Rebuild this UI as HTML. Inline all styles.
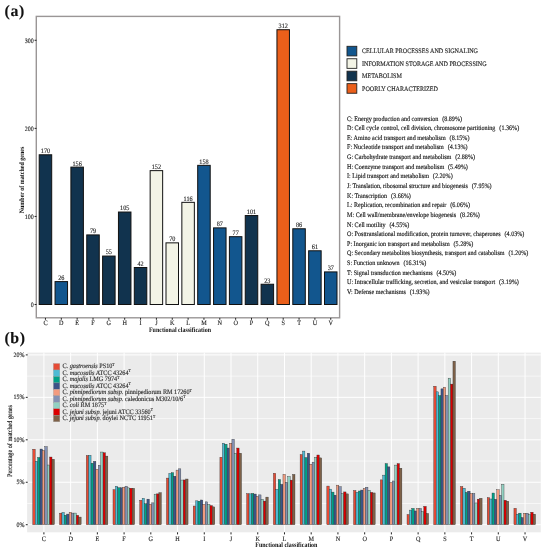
<!DOCTYPE html>
<html><head><meta charset="utf-8"><style>
html,body{margin:0;padding:0;background:#fff;}
svg{display:block;font-family:"Liberation Serif", serif;will-change:transform;}
text{stroke-width:0.12px;text-rendering:geometricPrecision;}
</style></head><body>
<svg width="546" height="550" viewBox="0 0 546 550">
<rect width="546" height="550" fill="#fff"/>
<text x="4.5" y="16.35" font-size="15.85" font-weight="bold" fill="#111" stroke="#111" stroke-width="0.3" letter-spacing="0.6">(a)</text>
<rect x="36.3" y="16.4" width="303.3" height="301.4" fill="none" stroke="#9a9696" stroke-width="1.4"/>
<line x1="34.6" y1="304.50" x2="36.5" y2="304.50" stroke="#222" stroke-width="1"/>
<text transform="translate(33.70,307.10) scale(1,1.1)" font-size="6.0" text-anchor="end" font-weight="normal" font-style="normal" fill="#1a1a1a" stroke="#1a1a1a" >0</text>
<line x1="34.6" y1="216.43" x2="36.5" y2="216.43" stroke="#222" stroke-width="1"/>
<text transform="translate(33.70,219.03) scale(1,1.1)" font-size="6.0" text-anchor="end" font-weight="normal" font-style="normal" fill="#1a1a1a" stroke="#1a1a1a" >100</text>
<line x1="34.6" y1="128.36" x2="36.5" y2="128.36" stroke="#222" stroke-width="1"/>
<text transform="translate(33.70,130.96) scale(1,1.1)" font-size="6.0" text-anchor="end" font-weight="normal" font-style="normal" fill="#1a1a1a" stroke="#1a1a1a" >200</text>
<line x1="34.6" y1="40.29" x2="36.5" y2="40.29" stroke="#222" stroke-width="1"/>
<text transform="translate(33.70,42.89) scale(1,1.1)" font-size="6.0" text-anchor="end" font-weight="normal" font-style="normal" fill="#1a1a1a" stroke="#1a1a1a" >300</text>
<rect x="39.20" y="154.78" width="12.5" height="149.72" fill="#11334e" stroke="#111" stroke-width="1"/>
<text transform="translate(45.45,153.18) scale(1,1.1)" font-size="6.2" text-anchor="middle" font-weight="normal" font-style="normal" fill="#222" stroke="#222" >170</text>
<line x1="45.45" y1="317.9" x2="45.45" y2="319.8" stroke="#222" stroke-width="1"/>
<text transform="translate(45.45,324.60) scale(1,1.1)" font-size="6.2" text-anchor="middle" font-weight="normal" font-style="normal" fill="#1a1a1a" stroke="#1a1a1a" >C</text>
<rect x="55.05" y="281.60" width="12.5" height="22.90" fill="#12568e" stroke="#111" stroke-width="1"/>
<text transform="translate(61.30,280.00) scale(1,1.1)" font-size="6.2" text-anchor="middle" font-weight="normal" font-style="normal" fill="#222" stroke="#222" >26</text>
<line x1="61.30" y1="317.9" x2="61.30" y2="319.8" stroke="#222" stroke-width="1"/>
<text transform="translate(61.30,324.60) scale(1,1.1)" font-size="6.2" text-anchor="middle" font-weight="normal" font-style="normal" fill="#1a1a1a" stroke="#1a1a1a" >D</text>
<rect x="70.90" y="167.11" width="12.5" height="137.39" fill="#11334e" stroke="#111" stroke-width="1"/>
<text transform="translate(77.15,165.51) scale(1,1.1)" font-size="6.2" text-anchor="middle" font-weight="normal" font-style="normal" fill="#222" stroke="#222" >156</text>
<line x1="77.15" y1="317.9" x2="77.15" y2="319.8" stroke="#222" stroke-width="1"/>
<text transform="translate(77.15,324.60) scale(1,1.1)" font-size="6.2" text-anchor="middle" font-weight="normal" font-style="normal" fill="#1a1a1a" stroke="#1a1a1a" >E</text>
<rect x="86.75" y="234.92" width="12.5" height="69.58" fill="#11334e" stroke="#111" stroke-width="1"/>
<text transform="translate(93.00,233.32) scale(1,1.1)" font-size="6.2" text-anchor="middle" font-weight="normal" font-style="normal" fill="#222" stroke="#222" >79</text>
<line x1="93.00" y1="317.9" x2="93.00" y2="319.8" stroke="#222" stroke-width="1"/>
<text transform="translate(93.00,324.60) scale(1,1.1)" font-size="6.2" text-anchor="middle" font-weight="normal" font-style="normal" fill="#1a1a1a" stroke="#1a1a1a" >F</text>
<rect x="102.60" y="256.06" width="12.5" height="48.44" fill="#11334e" stroke="#111" stroke-width="1"/>
<text transform="translate(108.85,254.46) scale(1,1.1)" font-size="6.2" text-anchor="middle" font-weight="normal" font-style="normal" fill="#222" stroke="#222" >55</text>
<line x1="108.85" y1="317.9" x2="108.85" y2="319.8" stroke="#222" stroke-width="1"/>
<text transform="translate(108.85,324.60) scale(1,1.1)" font-size="6.2" text-anchor="middle" font-weight="normal" font-style="normal" fill="#1a1a1a" stroke="#1a1a1a" >G</text>
<rect x="118.45" y="212.03" width="12.5" height="92.47" fill="#11334e" stroke="#111" stroke-width="1"/>
<text transform="translate(124.70,210.43) scale(1,1.1)" font-size="6.2" text-anchor="middle" font-weight="normal" font-style="normal" fill="#222" stroke="#222" >105</text>
<line x1="124.70" y1="317.9" x2="124.70" y2="319.8" stroke="#222" stroke-width="1"/>
<text transform="translate(124.70,324.60) scale(1,1.1)" font-size="6.2" text-anchor="middle" font-weight="normal" font-style="normal" fill="#1a1a1a" stroke="#1a1a1a" >H</text>
<rect x="134.30" y="267.51" width="12.5" height="36.99" fill="#11334e" stroke="#111" stroke-width="1"/>
<text transform="translate(140.55,265.91) scale(1,1.1)" font-size="6.2" text-anchor="middle" font-weight="normal" font-style="normal" fill="#222" stroke="#222" >42</text>
<line x1="140.55" y1="317.9" x2="140.55" y2="319.8" stroke="#222" stroke-width="1"/>
<text transform="translate(140.55,324.60) scale(1,1.1)" font-size="6.2" text-anchor="middle" font-weight="normal" font-style="normal" fill="#1a1a1a" stroke="#1a1a1a" >I</text>
<rect x="150.15" y="170.63" width="12.5" height="133.87" fill="#f3f4e6" stroke="#111" stroke-width="1"/>
<text transform="translate(156.40,169.03) scale(1,1.1)" font-size="6.2" text-anchor="middle" font-weight="normal" font-style="normal" fill="#222" stroke="#222" >152</text>
<line x1="156.40" y1="317.9" x2="156.40" y2="319.8" stroke="#222" stroke-width="1"/>
<text transform="translate(156.40,324.60) scale(1,1.1)" font-size="6.2" text-anchor="middle" font-weight="normal" font-style="normal" fill="#1a1a1a" stroke="#1a1a1a" >J</text>
<rect x="166.00" y="242.85" width="12.5" height="61.65" fill="#f3f4e6" stroke="#111" stroke-width="1"/>
<text transform="translate(172.25,241.25) scale(1,1.1)" font-size="6.2" text-anchor="middle" font-weight="normal" font-style="normal" fill="#222" stroke="#222" >70</text>
<line x1="172.25" y1="317.9" x2="172.25" y2="319.8" stroke="#222" stroke-width="1"/>
<text transform="translate(172.25,324.60) scale(1,1.1)" font-size="6.2" text-anchor="middle" font-weight="normal" font-style="normal" fill="#1a1a1a" stroke="#1a1a1a" >K</text>
<rect x="181.85" y="202.34" width="12.5" height="102.16" fill="#f3f4e6" stroke="#111" stroke-width="1"/>
<text transform="translate(188.10,200.74) scale(1,1.1)" font-size="6.2" text-anchor="middle" font-weight="normal" font-style="normal" fill="#222" stroke="#222" >116</text>
<line x1="188.10" y1="317.9" x2="188.10" y2="319.8" stroke="#222" stroke-width="1"/>
<text transform="translate(188.10,324.60) scale(1,1.1)" font-size="6.2" text-anchor="middle" font-weight="normal" font-style="normal" fill="#1a1a1a" stroke="#1a1a1a" >L</text>
<rect x="197.70" y="165.35" width="12.5" height="139.15" fill="#12568e" stroke="#111" stroke-width="1"/>
<text transform="translate(203.95,163.75) scale(1,1.1)" font-size="6.2" text-anchor="middle" font-weight="normal" font-style="normal" fill="#222" stroke="#222" >158</text>
<line x1="203.95" y1="317.9" x2="203.95" y2="319.8" stroke="#222" stroke-width="1"/>
<text transform="translate(203.95,324.60) scale(1,1.1)" font-size="6.2" text-anchor="middle" font-weight="normal" font-style="normal" fill="#1a1a1a" stroke="#1a1a1a" >M</text>
<rect x="213.55" y="227.88" width="12.5" height="76.62" fill="#12568e" stroke="#111" stroke-width="1"/>
<text transform="translate(219.80,226.28) scale(1,1.1)" font-size="6.2" text-anchor="middle" font-weight="normal" font-style="normal" fill="#222" stroke="#222" >87</text>
<line x1="219.80" y1="317.9" x2="219.80" y2="319.8" stroke="#222" stroke-width="1"/>
<text transform="translate(219.80,324.60) scale(1,1.1)" font-size="6.2" text-anchor="middle" font-weight="normal" font-style="normal" fill="#1a1a1a" stroke="#1a1a1a" >N</text>
<rect x="229.40" y="236.69" width="12.5" height="67.81" fill="#12568e" stroke="#111" stroke-width="1"/>
<text transform="translate(235.65,235.09) scale(1,1.1)" font-size="6.2" text-anchor="middle" font-weight="normal" font-style="normal" fill="#222" stroke="#222" >77</text>
<line x1="235.65" y1="317.9" x2="235.65" y2="319.8" stroke="#222" stroke-width="1"/>
<text transform="translate(235.65,324.60) scale(1,1.1)" font-size="6.2" text-anchor="middle" font-weight="normal" font-style="normal" fill="#1a1a1a" stroke="#1a1a1a" >O</text>
<rect x="245.25" y="215.55" width="12.5" height="88.95" fill="#11334e" stroke="#111" stroke-width="1"/>
<text transform="translate(251.50,213.95) scale(1,1.1)" font-size="6.2" text-anchor="middle" font-weight="normal" font-style="normal" fill="#222" stroke="#222" >101</text>
<line x1="251.50" y1="317.9" x2="251.50" y2="319.8" stroke="#222" stroke-width="1"/>
<text transform="translate(251.50,324.60) scale(1,1.1)" font-size="6.2" text-anchor="middle" font-weight="normal" font-style="normal" fill="#1a1a1a" stroke="#1a1a1a" >P</text>
<rect x="261.10" y="284.24" width="12.5" height="20.26" fill="#11334e" stroke="#111" stroke-width="1"/>
<text transform="translate(267.35,282.64) scale(1,1.1)" font-size="6.2" text-anchor="middle" font-weight="normal" font-style="normal" fill="#222" stroke="#222" >23</text>
<line x1="267.35" y1="317.9" x2="267.35" y2="319.8" stroke="#222" stroke-width="1"/>
<text transform="translate(267.35,324.60) scale(1,1.1)" font-size="6.2" text-anchor="middle" font-weight="normal" font-style="normal" fill="#1a1a1a" stroke="#1a1a1a" >Q</text>
<rect x="276.95" y="29.72" width="12.5" height="274.78" fill="#eb5f1a" stroke="#111" stroke-width="1"/>
<text transform="translate(283.20,28.12) scale(1,1.1)" font-size="6.2" text-anchor="middle" font-weight="normal" font-style="normal" fill="#222" stroke="#222" >312</text>
<line x1="283.20" y1="317.9" x2="283.20" y2="319.8" stroke="#222" stroke-width="1"/>
<text transform="translate(283.20,324.60) scale(1,1.1)" font-size="6.2" text-anchor="middle" font-weight="normal" font-style="normal" fill="#1a1a1a" stroke="#1a1a1a" >S</text>
<rect x="292.80" y="228.76" width="12.5" height="75.74" fill="#12568e" stroke="#111" stroke-width="1"/>
<text transform="translate(299.05,227.16) scale(1,1.1)" font-size="6.2" text-anchor="middle" font-weight="normal" font-style="normal" fill="#222" stroke="#222" >86</text>
<line x1="299.05" y1="317.9" x2="299.05" y2="319.8" stroke="#222" stroke-width="1"/>
<text transform="translate(299.05,324.60) scale(1,1.1)" font-size="6.2" text-anchor="middle" font-weight="normal" font-style="normal" fill="#1a1a1a" stroke="#1a1a1a" >T</text>
<rect x="308.65" y="250.78" width="12.5" height="53.72" fill="#12568e" stroke="#111" stroke-width="1"/>
<text transform="translate(314.90,249.18) scale(1,1.1)" font-size="6.2" text-anchor="middle" font-weight="normal" font-style="normal" fill="#222" stroke="#222" >61</text>
<line x1="314.90" y1="317.9" x2="314.90" y2="319.8" stroke="#222" stroke-width="1"/>
<text transform="translate(314.90,324.60) scale(1,1.1)" font-size="6.2" text-anchor="middle" font-weight="normal" font-style="normal" fill="#1a1a1a" stroke="#1a1a1a" >U</text>
<rect x="324.50" y="271.91" width="12.5" height="32.59" fill="#12568e" stroke="#111" stroke-width="1"/>
<text transform="translate(330.75,270.31) scale(1,1.1)" font-size="6.2" text-anchor="middle" font-weight="normal" font-style="normal" fill="#222" stroke="#222" >37</text>
<line x1="330.75" y1="317.9" x2="330.75" y2="319.8" stroke="#222" stroke-width="1"/>
<text transform="translate(330.75,324.60) scale(1,1.1)" font-size="6.2" text-anchor="middle" font-weight="normal" font-style="normal" fill="#1a1a1a" stroke="#1a1a1a" >V</text>
<text transform="translate(180,332.0) scale(1,1.15)" font-size="6.0" text-anchor="middle" font-weight="bold" fill="#111">Functional classification</text>
<text transform="translate(23.7,180) rotate(-90) scale(1,1.15)" font-size="6.0" text-anchor="middle" font-weight="bold" fill="#111">Number of matched genes</text>
<rect x="347" y="46.30" width="9.8" height="9.6" fill="#12568e" stroke="#222" stroke-width="0.9"/>
<text transform="translate(362.00,53.30) scale(1,1.1)" font-size="6.1" text-anchor="start" font-weight="normal" font-style="normal" fill="#222" stroke="#222" >CELLULAR PROCESSES AND SIGNALING</text>
<rect x="347" y="58.75" width="9.8" height="9.6" fill="#f3f4e6" stroke="#222" stroke-width="0.9"/>
<text transform="translate(362.00,65.75) scale(1,1.1)" font-size="6.1" text-anchor="start" font-weight="normal" font-style="normal" fill="#222" stroke="#222" >INFORMATION STORAGE AND PROCESSING</text>
<rect x="347" y="71.20" width="9.8" height="9.6" fill="#11334e" stroke="#222" stroke-width="0.9"/>
<text transform="translate(362.00,78.20) scale(1,1.1)" font-size="6.1" text-anchor="start" font-weight="normal" font-style="normal" fill="#222" stroke="#222" >METABOLISM</text>
<rect x="347" y="83.65" width="9.8" height="9.6" fill="#eb5f1a" stroke="#222" stroke-width="0.9"/>
<text transform="translate(362.00,90.65) scale(1,1.1)" font-size="6.1" text-anchor="start" font-weight="normal" font-style="normal" fill="#222" stroke="#222" >POORLY CHARACTERIZED</text>
<text transform="translate(347,120.60) scale(1,1.1)" font-size="6.1" fill="#111" stroke="#111" xml:space="preserve">C: Energy production and conversion  <tspan dx="0.9">(8.89%)</tspan></text>
<text transform="translate(347,130.23) scale(1,1.1)" font-size="6.1" fill="#111" stroke="#111" xml:space="preserve">D: Cell cycle control, cell division, chromosome partitioning  <tspan dx="0.9">(1.36%)</tspan></text>
<text transform="translate(347,139.86) scale(1,1.1)" font-size="6.1" fill="#111" stroke="#111" xml:space="preserve">E: Amino acid transport and metabolism  <tspan dx="0.9">(8.15%)</tspan></text>
<text transform="translate(347,149.49) scale(1,1.1)" font-size="6.1" fill="#111" stroke="#111" xml:space="preserve">F: Nucleotide transport and metabolism  <tspan dx="0.9">(4.13%)</tspan></text>
<text transform="translate(347,159.12) scale(1,1.1)" font-size="6.1" fill="#111" stroke="#111" xml:space="preserve">G: Carbohydrate transport and metabolism  <tspan dx="0.9">(2.88%)</tspan></text>
<text transform="translate(347,168.75) scale(1,1.1)" font-size="6.1" fill="#111" stroke="#111" xml:space="preserve">H: Coenzyme transport and metabolism  <tspan dx="0.9">(5.49%)</tspan></text>
<text transform="translate(347,178.38) scale(1,1.1)" font-size="6.1" fill="#111" stroke="#111" xml:space="preserve">I: Lipid transport and metabolism  <tspan dx="0.9">(2.20%)</tspan></text>
<text transform="translate(347,188.01) scale(1,1.1)" font-size="6.1" fill="#111" stroke="#111" xml:space="preserve">J: Translation, ribosomal structure and biogenesis  <tspan dx="0.9">(7.95%)</tspan></text>
<text transform="translate(347,197.64) scale(1,1.1)" font-size="6.1" fill="#111" stroke="#111" xml:space="preserve">K: Transcription  <tspan dx="0.9">(3.66%)</tspan></text>
<text transform="translate(347,207.27) scale(1,1.1)" font-size="6.1" fill="#111" stroke="#111" xml:space="preserve">L: Replication, recombination and repair  <tspan dx="0.9">(6.06%)</tspan></text>
<text transform="translate(347,216.90) scale(1,1.1)" font-size="6.1" fill="#111" stroke="#111" xml:space="preserve">M: Cell wall/membrane/envelope biogenesis  <tspan dx="0.9">(8.26%)</tspan></text>
<text transform="translate(347,226.53) scale(1,1.1)" font-size="6.1" fill="#111" stroke="#111" xml:space="preserve">N: Cell motility  <tspan dx="0.9">(4.55%)</tspan></text>
<text transform="translate(347,236.16) scale(1,1.1)" font-size="6.1" fill="#111" stroke="#111" xml:space="preserve">O: Posttranslational modification, protein turnover, chaperones  <tspan dx="0.9">(4.03%)</tspan></text>
<text transform="translate(347,245.79) scale(1,1.1)" font-size="6.1" fill="#111" stroke="#111" xml:space="preserve">P: Inorganic ion transport and metabolism  <tspan dx="0.9">(5.28%)</tspan></text>
<text transform="translate(347,255.42) scale(1,1.1)" font-size="6.1" fill="#111" stroke="#111" xml:space="preserve">Q: Secondary metabolites biosynthesis, transport and catabolism  <tspan dx="0.9">(1.20%)</tspan></text>
<text transform="translate(347,265.05) scale(1,1.1)" font-size="6.1" fill="#111" stroke="#111" xml:space="preserve">S: Function unknown  <tspan dx="0.9">(16.31%)</tspan></text>
<text transform="translate(347,274.68) scale(1,1.1)" font-size="6.1" fill="#111" stroke="#111" xml:space="preserve">T: Signal transduction mechanisms  <tspan dx="0.9">(4.50%)</tspan></text>
<text transform="translate(347,284.31) scale(1,1.1)" font-size="6.1" fill="#111" stroke="#111" xml:space="preserve">U: Intracellular trafficking, secretion, and vesicular transport  <tspan dx="0.9">(3.19%)</tspan></text>
<text transform="translate(347,293.94) scale(1,1.1)" font-size="6.1" fill="#111" stroke="#111" xml:space="preserve">V: Defense mechanisms  <tspan dx="0.9">(1.93%)</tspan></text>
<text x="4.4" y="342.85" font-size="15.85" font-weight="bold" fill="#111" stroke="#111" stroke-width="0.3" letter-spacing="0.6">(b)</text>
<rect x="27.1" y="352.6" width="513.70" height="179.70" fill="#ebebeb"/>
<line x1="27.1" y1="503.48" x2="540.8" y2="503.48" stroke="#fff" stroke-width="0.6"/>
<line x1="27.1" y1="461.03" x2="540.8" y2="461.03" stroke="#fff" stroke-width="0.6"/>
<line x1="27.1" y1="418.58" x2="540.8" y2="418.58" stroke="#fff" stroke-width="0.6"/>
<line x1="27.1" y1="376.12" x2="540.8" y2="376.12" stroke="#fff" stroke-width="0.6"/>
<line x1="27.1" y1="524.70" x2="540.8" y2="524.70" stroke="#fff" stroke-width="1.0"/>
<line x1="27.1" y1="482.25" x2="540.8" y2="482.25" stroke="#fff" stroke-width="1.0"/>
<line x1="27.1" y1="439.80" x2="540.8" y2="439.80" stroke="#fff" stroke-width="1.0"/>
<line x1="27.1" y1="397.35" x2="540.8" y2="397.35" stroke="#fff" stroke-width="1.0"/>
<line x1="27.1" y1="354.90" x2="540.8" y2="354.90" stroke="#fff" stroke-width="1.0"/>
<line x1="43.90" y1="352.6" x2="43.90" y2="532.3" stroke="#fff" stroke-width="1.0"/>
<line x1="70.63" y1="352.6" x2="70.63" y2="532.3" stroke="#fff" stroke-width="1.0"/>
<line x1="97.36" y1="352.6" x2="97.36" y2="532.3" stroke="#fff" stroke-width="1.0"/>
<line x1="124.09" y1="352.6" x2="124.09" y2="532.3" stroke="#fff" stroke-width="1.0"/>
<line x1="150.82" y1="352.6" x2="150.82" y2="532.3" stroke="#fff" stroke-width="1.0"/>
<line x1="177.55" y1="352.6" x2="177.55" y2="532.3" stroke="#fff" stroke-width="1.0"/>
<line x1="204.28" y1="352.6" x2="204.28" y2="532.3" stroke="#fff" stroke-width="1.0"/>
<line x1="231.01" y1="352.6" x2="231.01" y2="532.3" stroke="#fff" stroke-width="1.0"/>
<line x1="257.74" y1="352.6" x2="257.74" y2="532.3" stroke="#fff" stroke-width="1.0"/>
<line x1="284.47" y1="352.6" x2="284.47" y2="532.3" stroke="#fff" stroke-width="1.0"/>
<line x1="311.20" y1="352.6" x2="311.20" y2="532.3" stroke="#fff" stroke-width="1.0"/>
<line x1="337.93" y1="352.6" x2="337.93" y2="532.3" stroke="#fff" stroke-width="1.0"/>
<line x1="364.66" y1="352.6" x2="364.66" y2="532.3" stroke="#fff" stroke-width="1.0"/>
<line x1="391.39" y1="352.6" x2="391.39" y2="532.3" stroke="#fff" stroke-width="1.0"/>
<line x1="418.12" y1="352.6" x2="418.12" y2="532.3" stroke="#fff" stroke-width="1.0"/>
<line x1="444.85" y1="352.6" x2="444.85" y2="532.3" stroke="#fff" stroke-width="1.0"/>
<line x1="471.58" y1="352.6" x2="471.58" y2="532.3" stroke="#fff" stroke-width="1.0"/>
<line x1="498.31" y1="352.6" x2="498.31" y2="532.3" stroke="#fff" stroke-width="1.0"/>
<line x1="525.04" y1="352.6" x2="525.04" y2="532.3" stroke="#fff" stroke-width="1.0"/>
<rect x="32.80" y="449.22" width="2.40" height="75.48" fill="#E64B35" stroke="#2a2a2a" stroke-width="0.35"/>
<rect x="35.20" y="461.19" width="2.40" height="63.51" fill="#4DBBD5" stroke="#2a2a2a" stroke-width="0.35"/>
<rect x="37.60" y="457.46" width="2.40" height="67.24" fill="#00A087" stroke="#2a2a2a" stroke-width="0.35"/>
<rect x="40.00" y="449.05" width="2.40" height="75.65" fill="#3C5488" stroke="#2a2a2a" stroke-width="0.35"/>
<rect x="42.40" y="450.41" width="2.40" height="74.29" fill="#F39B7F" stroke="#2a2a2a" stroke-width="0.35"/>
<rect x="44.80" y="446.59" width="2.40" height="78.11" fill="#8491B4" stroke="#2a2a2a" stroke-width="0.35"/>
<rect x="47.20" y="465.02" width="2.40" height="59.68" fill="#91D1C2" stroke="#2a2a2a" stroke-width="0.35"/>
<rect x="49.60" y="457.03" width="2.40" height="67.67" fill="#DC0000" stroke="#2a2a2a" stroke-width="0.35"/>
<rect x="52.00" y="459.24" width="2.40" height="65.46" fill="#7E6148" stroke="#2a2a2a" stroke-width="0.35"/>
<rect x="59.53" y="513.15" width="2.40" height="11.55" fill="#E64B35" stroke="#2a2a2a" stroke-width="0.35"/>
<rect x="61.93" y="512.39" width="2.40" height="12.31" fill="#4DBBD5" stroke="#2a2a2a" stroke-width="0.35"/>
<rect x="64.33" y="515.19" width="2.40" height="9.51" fill="#00A087" stroke="#2a2a2a" stroke-width="0.35"/>
<rect x="66.73" y="514.09" width="2.40" height="10.61" fill="#3C5488" stroke="#2a2a2a" stroke-width="0.35"/>
<rect x="69.13" y="512.22" width="2.40" height="12.48" fill="#F39B7F" stroke="#2a2a2a" stroke-width="0.35"/>
<rect x="71.53" y="513.07" width="2.40" height="11.63" fill="#8491B4" stroke="#2a2a2a" stroke-width="0.35"/>
<rect x="73.93" y="513.07" width="2.40" height="11.63" fill="#91D1C2" stroke="#2a2a2a" stroke-width="0.35"/>
<rect x="76.33" y="515.28" width="2.40" height="9.42" fill="#DC0000" stroke="#2a2a2a" stroke-width="0.35"/>
<rect x="78.73" y="517.06" width="2.40" height="7.64" fill="#7E6148" stroke="#2a2a2a" stroke-width="0.35"/>
<rect x="86.26" y="455.51" width="2.40" height="69.19" fill="#E64B35" stroke="#2a2a2a" stroke-width="0.35"/>
<rect x="88.66" y="455.25" width="2.40" height="69.45" fill="#4DBBD5" stroke="#2a2a2a" stroke-width="0.35"/>
<rect x="91.06" y="463.23" width="2.40" height="61.47" fill="#00A087" stroke="#2a2a2a" stroke-width="0.35"/>
<rect x="93.46" y="461.36" width="2.40" height="63.34" fill="#3C5488" stroke="#2a2a2a" stroke-width="0.35"/>
<rect x="95.86" y="469.26" width="2.40" height="55.44" fill="#F39B7F" stroke="#2a2a2a" stroke-width="0.35"/>
<rect x="98.26" y="465.27" width="2.40" height="59.43" fill="#8491B4" stroke="#2a2a2a" stroke-width="0.35"/>
<rect x="100.66" y="452.03" width="2.40" height="72.67" fill="#91D1C2" stroke="#2a2a2a" stroke-width="0.35"/>
<rect x="103.06" y="452.79" width="2.40" height="71.91" fill="#DC0000" stroke="#2a2a2a" stroke-width="0.35"/>
<rect x="105.46" y="456.10" width="2.40" height="68.60" fill="#7E6148" stroke="#2a2a2a" stroke-width="0.35"/>
<rect x="112.99" y="489.64" width="2.40" height="35.06" fill="#E64B35" stroke="#2a2a2a" stroke-width="0.35"/>
<rect x="115.39" y="486.24" width="2.40" height="38.46" fill="#4DBBD5" stroke="#2a2a2a" stroke-width="0.35"/>
<rect x="117.79" y="487.68" width="2.40" height="37.02" fill="#00A087" stroke="#2a2a2a" stroke-width="0.35"/>
<rect x="120.19" y="487.85" width="2.40" height="36.85" fill="#3C5488" stroke="#2a2a2a" stroke-width="0.35"/>
<rect x="122.59" y="487.17" width="2.40" height="37.53" fill="#F39B7F" stroke="#2a2a2a" stroke-width="0.35"/>
<rect x="124.99" y="486.24" width="2.40" height="38.46" fill="#8491B4" stroke="#2a2a2a" stroke-width="0.35"/>
<rect x="127.39" y="487.85" width="2.40" height="36.85" fill="#91D1C2" stroke="#2a2a2a" stroke-width="0.35"/>
<rect x="129.79" y="488.19" width="2.40" height="36.51" fill="#DC0000" stroke="#2a2a2a" stroke-width="0.35"/>
<rect x="132.19" y="488.28" width="2.40" height="36.42" fill="#7E6148" stroke="#2a2a2a" stroke-width="0.35"/>
<rect x="139.72" y="500.25" width="2.40" height="24.45" fill="#E64B35" stroke="#2a2a2a" stroke-width="0.35"/>
<rect x="142.12" y="498.30" width="2.40" height="26.40" fill="#4DBBD5" stroke="#2a2a2a" stroke-width="0.35"/>
<rect x="144.52" y="503.73" width="2.40" height="20.97" fill="#00A087" stroke="#2a2a2a" stroke-width="0.35"/>
<rect x="146.92" y="499.15" width="2.40" height="25.55" fill="#3C5488" stroke="#2a2a2a" stroke-width="0.35"/>
<rect x="149.32" y="504.15" width="2.40" height="20.55" fill="#F39B7F" stroke="#2a2a2a" stroke-width="0.35"/>
<rect x="151.72" y="502.88" width="2.40" height="21.82" fill="#8491B4" stroke="#2a2a2a" stroke-width="0.35"/>
<rect x="154.12" y="494.14" width="2.40" height="30.56" fill="#91D1C2" stroke="#2a2a2a" stroke-width="0.35"/>
<rect x="156.52" y="493.88" width="2.40" height="30.82" fill="#DC0000" stroke="#2a2a2a" stroke-width="0.35"/>
<rect x="158.92" y="492.69" width="2.40" height="32.01" fill="#7E6148" stroke="#2a2a2a" stroke-width="0.35"/>
<rect x="166.45" y="478.09" width="2.40" height="46.61" fill="#E64B35" stroke="#2a2a2a" stroke-width="0.35"/>
<rect x="168.85" y="473.34" width="2.40" height="51.36" fill="#4DBBD5" stroke="#2a2a2a" stroke-width="0.35"/>
<rect x="171.25" y="472.66" width="2.40" height="52.04" fill="#00A087" stroke="#2a2a2a" stroke-width="0.35"/>
<rect x="173.65" y="476.22" width="2.40" height="48.48" fill="#3C5488" stroke="#2a2a2a" stroke-width="0.35"/>
<rect x="176.05" y="470.11" width="2.40" height="54.59" fill="#F39B7F" stroke="#2a2a2a" stroke-width="0.35"/>
<rect x="178.45" y="468.84" width="2.40" height="55.86" fill="#8491B4" stroke="#2a2a2a" stroke-width="0.35"/>
<rect x="180.85" y="480.04" width="2.40" height="44.66" fill="#91D1C2" stroke="#2a2a2a" stroke-width="0.35"/>
<rect x="183.25" y="479.96" width="2.40" height="44.74" fill="#DC0000" stroke="#2a2a2a" stroke-width="0.35"/>
<rect x="185.65" y="479.02" width="2.40" height="45.68" fill="#7E6148" stroke="#2a2a2a" stroke-width="0.35"/>
<rect x="193.18" y="506.02" width="2.40" height="18.68" fill="#E64B35" stroke="#2a2a2a" stroke-width="0.35"/>
<rect x="195.58" y="500.84" width="2.40" height="23.86" fill="#4DBBD5" stroke="#2a2a2a" stroke-width="0.35"/>
<rect x="197.98" y="501.18" width="2.40" height="23.52" fill="#00A087" stroke="#2a2a2a" stroke-width="0.35"/>
<rect x="200.38" y="499.99" width="2.40" height="24.71" fill="#3C5488" stroke="#2a2a2a" stroke-width="0.35"/>
<rect x="202.78" y="504.32" width="2.40" height="20.38" fill="#F39B7F" stroke="#2a2a2a" stroke-width="0.35"/>
<rect x="205.18" y="501.86" width="2.40" height="22.84" fill="#8491B4" stroke="#2a2a2a" stroke-width="0.35"/>
<rect x="207.58" y="504.32" width="2.40" height="20.38" fill="#91D1C2" stroke="#2a2a2a" stroke-width="0.35"/>
<rect x="209.98" y="505.60" width="2.40" height="19.10" fill="#DC0000" stroke="#2a2a2a" stroke-width="0.35"/>
<rect x="212.38" y="506.87" width="2.40" height="17.83" fill="#7E6148" stroke="#2a2a2a" stroke-width="0.35"/>
<rect x="219.91" y="457.20" width="2.40" height="67.50" fill="#E64B35" stroke="#2a2a2a" stroke-width="0.35"/>
<rect x="222.31" y="443.20" width="2.40" height="81.50" fill="#4DBBD5" stroke="#2a2a2a" stroke-width="0.35"/>
<rect x="224.71" y="444.21" width="2.40" height="80.49" fill="#00A087" stroke="#2a2a2a" stroke-width="0.35"/>
<rect x="227.11" y="448.04" width="2.40" height="76.66" fill="#3C5488" stroke="#2a2a2a" stroke-width="0.35"/>
<rect x="229.51" y="443.20" width="2.40" height="81.50" fill="#F39B7F" stroke="#2a2a2a" stroke-width="0.35"/>
<rect x="231.91" y="439.29" width="2.40" height="85.41" fill="#8491B4" stroke="#2a2a2a" stroke-width="0.35"/>
<rect x="234.31" y="453.21" width="2.40" height="71.49" fill="#91D1C2" stroke="#2a2a2a" stroke-width="0.35"/>
<rect x="236.71" y="448.04" width="2.40" height="76.66" fill="#DC0000" stroke="#2a2a2a" stroke-width="0.35"/>
<rect x="239.11" y="453.21" width="2.40" height="71.49" fill="#7E6148" stroke="#2a2a2a" stroke-width="0.35"/>
<rect x="246.64" y="493.63" width="2.40" height="31.07" fill="#E64B35" stroke="#2a2a2a" stroke-width="0.35"/>
<rect x="249.04" y="493.88" width="2.40" height="30.82" fill="#4DBBD5" stroke="#2a2a2a" stroke-width="0.35"/>
<rect x="251.44" y="493.37" width="2.40" height="31.33" fill="#00A087" stroke="#2a2a2a" stroke-width="0.35"/>
<rect x="253.84" y="494.05" width="2.40" height="30.65" fill="#3C5488" stroke="#2a2a2a" stroke-width="0.35"/>
<rect x="256.24" y="496.34" width="2.40" height="28.36" fill="#F39B7F" stroke="#2a2a2a" stroke-width="0.35"/>
<rect x="258.64" y="494.90" width="2.40" height="29.80" fill="#8491B4" stroke="#2a2a2a" stroke-width="0.35"/>
<rect x="261.04" y="499.23" width="2.40" height="25.47" fill="#91D1C2" stroke="#2a2a2a" stroke-width="0.35"/>
<rect x="263.44" y="501.10" width="2.40" height="23.60" fill="#DC0000" stroke="#2a2a2a" stroke-width="0.35"/>
<rect x="265.84" y="497.11" width="2.40" height="27.59" fill="#7E6148" stroke="#2a2a2a" stroke-width="0.35"/>
<rect x="273.37" y="473.25" width="2.40" height="51.45" fill="#E64B35" stroke="#2a2a2a" stroke-width="0.35"/>
<rect x="275.77" y="489.30" width="2.40" height="35.40" fill="#4DBBD5" stroke="#2a2a2a" stroke-width="0.35"/>
<rect x="278.17" y="479.53" width="2.40" height="45.17" fill="#00A087" stroke="#2a2a2a" stroke-width="0.35"/>
<rect x="280.57" y="484.37" width="2.40" height="40.33" fill="#3C5488" stroke="#2a2a2a" stroke-width="0.35"/>
<rect x="282.97" y="474.35" width="2.40" height="50.35" fill="#F39B7F" stroke="#2a2a2a" stroke-width="0.35"/>
<rect x="285.37" y="482.25" width="2.40" height="42.45" fill="#8491B4" stroke="#2a2a2a" stroke-width="0.35"/>
<rect x="287.77" y="476.48" width="2.40" height="48.22" fill="#91D1C2" stroke="#2a2a2a" stroke-width="0.35"/>
<rect x="290.17" y="480.13" width="2.40" height="44.57" fill="#DC0000" stroke="#2a2a2a" stroke-width="0.35"/>
<rect x="292.57" y="474.44" width="2.40" height="50.26" fill="#7E6148" stroke="#2a2a2a" stroke-width="0.35"/>
<rect x="300.10" y="454.57" width="2.40" height="70.13" fill="#E64B35" stroke="#2a2a2a" stroke-width="0.35"/>
<rect x="302.50" y="451.09" width="2.40" height="73.61" fill="#4DBBD5" stroke="#2a2a2a" stroke-width="0.35"/>
<rect x="304.90" y="457.54" width="2.40" height="67.16" fill="#00A087" stroke="#2a2a2a" stroke-width="0.35"/>
<rect x="307.30" y="453.21" width="2.40" height="71.49" fill="#3C5488" stroke="#2a2a2a" stroke-width="0.35"/>
<rect x="309.70" y="464.17" width="2.40" height="60.53" fill="#F39B7F" stroke="#2a2a2a" stroke-width="0.35"/>
<rect x="312.10" y="462.13" width="2.40" height="62.57" fill="#8491B4" stroke="#2a2a2a" stroke-width="0.35"/>
<rect x="314.50" y="457.20" width="2.40" height="67.50" fill="#91D1C2" stroke="#2a2a2a" stroke-width="0.35"/>
<rect x="316.90" y="455.00" width="2.40" height="69.70" fill="#DC0000" stroke="#2a2a2a" stroke-width="0.35"/>
<rect x="319.30" y="457.88" width="2.40" height="66.82" fill="#7E6148" stroke="#2a2a2a" stroke-width="0.35"/>
<rect x="326.83" y="486.07" width="2.40" height="38.63" fill="#E64B35" stroke="#2a2a2a" stroke-width="0.35"/>
<rect x="329.23" y="489.13" width="2.40" height="35.57" fill="#4DBBD5" stroke="#2a2a2a" stroke-width="0.35"/>
<rect x="331.63" y="492.10" width="2.40" height="32.60" fill="#00A087" stroke="#2a2a2a" stroke-width="0.35"/>
<rect x="334.03" y="495.15" width="2.40" height="29.55" fill="#3C5488" stroke="#2a2a2a" stroke-width="0.35"/>
<rect x="336.43" y="485.14" width="2.40" height="39.56" fill="#F39B7F" stroke="#2a2a2a" stroke-width="0.35"/>
<rect x="338.83" y="486.66" width="2.40" height="38.04" fill="#8491B4" stroke="#2a2a2a" stroke-width="0.35"/>
<rect x="341.23" y="493.29" width="2.40" height="31.41" fill="#91D1C2" stroke="#2a2a2a" stroke-width="0.35"/>
<rect x="343.63" y="491.93" width="2.40" height="32.77" fill="#DC0000" stroke="#2a2a2a" stroke-width="0.35"/>
<rect x="346.03" y="493.88" width="2.40" height="30.82" fill="#7E6148" stroke="#2a2a2a" stroke-width="0.35"/>
<rect x="353.56" y="490.49" width="2.40" height="34.21" fill="#E64B35" stroke="#2a2a2a" stroke-width="0.35"/>
<rect x="355.96" y="492.27" width="2.40" height="32.43" fill="#4DBBD5" stroke="#2a2a2a" stroke-width="0.35"/>
<rect x="358.36" y="490.99" width="2.40" height="33.71" fill="#00A087" stroke="#2a2a2a" stroke-width="0.35"/>
<rect x="360.76" y="490.06" width="2.40" height="34.64" fill="#3C5488" stroke="#2a2a2a" stroke-width="0.35"/>
<rect x="363.16" y="488.45" width="2.40" height="36.25" fill="#F39B7F" stroke="#2a2a2a" stroke-width="0.35"/>
<rect x="365.56" y="487.26" width="2.40" height="37.44" fill="#8491B4" stroke="#2a2a2a" stroke-width="0.35"/>
<rect x="367.96" y="490.23" width="2.40" height="34.47" fill="#91D1C2" stroke="#2a2a2a" stroke-width="0.35"/>
<rect x="370.36" y="492.35" width="2.40" height="32.35" fill="#DC0000" stroke="#2a2a2a" stroke-width="0.35"/>
<rect x="372.76" y="492.95" width="2.40" height="31.75" fill="#7E6148" stroke="#2a2a2a" stroke-width="0.35"/>
<rect x="380.29" y="479.87" width="2.40" height="44.83" fill="#E64B35" stroke="#2a2a2a" stroke-width="0.35"/>
<rect x="382.69" y="475.12" width="2.40" height="49.58" fill="#4DBBD5" stroke="#2a2a2a" stroke-width="0.35"/>
<rect x="385.09" y="463.57" width="2.40" height="61.13" fill="#00A087" stroke="#2a2a2a" stroke-width="0.35"/>
<rect x="387.49" y="466.88" width="2.40" height="57.82" fill="#3C5488" stroke="#2a2a2a" stroke-width="0.35"/>
<rect x="389.89" y="482.42" width="2.40" height="42.28" fill="#F39B7F" stroke="#2a2a2a" stroke-width="0.35"/>
<rect x="392.29" y="480.98" width="2.40" height="43.72" fill="#8491B4" stroke="#2a2a2a" stroke-width="0.35"/>
<rect x="394.69" y="465.10" width="2.40" height="59.60" fill="#91D1C2" stroke="#2a2a2a" stroke-width="0.35"/>
<rect x="397.09" y="463.57" width="2.40" height="61.13" fill="#DC0000" stroke="#2a2a2a" stroke-width="0.35"/>
<rect x="399.49" y="468.24" width="2.40" height="56.46" fill="#7E6148" stroke="#2a2a2a" stroke-width="0.35"/>
<rect x="407.02" y="514.51" width="2.40" height="10.19" fill="#E64B35" stroke="#2a2a2a" stroke-width="0.35"/>
<rect x="409.42" y="510.10" width="2.40" height="14.60" fill="#4DBBD5" stroke="#2a2a2a" stroke-width="0.35"/>
<rect x="411.82" y="508.40" width="2.40" height="16.30" fill="#00A087" stroke="#2a2a2a" stroke-width="0.35"/>
<rect x="414.22" y="510.95" width="2.40" height="13.75" fill="#3C5488" stroke="#2a2a2a" stroke-width="0.35"/>
<rect x="416.62" y="508.40" width="2.40" height="16.30" fill="#F39B7F" stroke="#2a2a2a" stroke-width="0.35"/>
<rect x="419.02" y="508.48" width="2.40" height="16.22" fill="#8491B4" stroke="#2a2a2a" stroke-width="0.35"/>
<rect x="421.42" y="511.46" width="2.40" height="13.24" fill="#91D1C2" stroke="#2a2a2a" stroke-width="0.35"/>
<rect x="423.82" y="506.36" width="2.40" height="18.34" fill="#DC0000" stroke="#2a2a2a" stroke-width="0.35"/>
<rect x="426.22" y="513.41" width="2.40" height="11.29" fill="#7E6148" stroke="#2a2a2a" stroke-width="0.35"/>
<rect x="433.75" y="386.23" width="2.40" height="138.47" fill="#E64B35" stroke="#2a2a2a" stroke-width="0.35"/>
<rect x="436.15" y="391.83" width="2.40" height="132.87" fill="#4DBBD5" stroke="#2a2a2a" stroke-width="0.35"/>
<rect x="438.55" y="395.57" width="2.40" height="129.13" fill="#00A087" stroke="#2a2a2a" stroke-width="0.35"/>
<rect x="440.95" y="388.86" width="2.40" height="135.84" fill="#3C5488" stroke="#2a2a2a" stroke-width="0.35"/>
<rect x="443.35" y="387.16" width="2.40" height="137.54" fill="#F39B7F" stroke="#2a2a2a" stroke-width="0.35"/>
<rect x="445.75" y="395.48" width="2.40" height="129.22" fill="#8491B4" stroke="#2a2a2a" stroke-width="0.35"/>
<rect x="448.15" y="378.16" width="2.40" height="146.54" fill="#91D1C2" stroke="#2a2a2a" stroke-width="0.35"/>
<rect x="450.55" y="384.11" width="2.40" height="140.59" fill="#DC0000" stroke="#2a2a2a" stroke-width="0.35"/>
<rect x="452.95" y="361.18" width="2.40" height="163.52" fill="#7E6148" stroke="#2a2a2a" stroke-width="0.35"/>
<rect x="460.48" y="486.50" width="2.40" height="38.20" fill="#E64B35" stroke="#2a2a2a" stroke-width="0.35"/>
<rect x="462.88" y="488.19" width="2.40" height="36.51" fill="#4DBBD5" stroke="#2a2a2a" stroke-width="0.35"/>
<rect x="465.28" y="492.35" width="2.40" height="32.35" fill="#00A087" stroke="#2a2a2a" stroke-width="0.35"/>
<rect x="467.68" y="491.16" width="2.40" height="33.54" fill="#3C5488" stroke="#2a2a2a" stroke-width="0.35"/>
<rect x="470.08" y="493.54" width="2.40" height="31.16" fill="#F39B7F" stroke="#2a2a2a" stroke-width="0.35"/>
<rect x="472.48" y="493.54" width="2.40" height="31.16" fill="#8491B4" stroke="#2a2a2a" stroke-width="0.35"/>
<rect x="474.88" y="502.97" width="2.40" height="21.73" fill="#91D1C2" stroke="#2a2a2a" stroke-width="0.35"/>
<rect x="477.28" y="499.15" width="2.40" height="25.55" fill="#DC0000" stroke="#2a2a2a" stroke-width="0.35"/>
<rect x="479.68" y="498.30" width="2.40" height="26.40" fill="#7E6148" stroke="#2a2a2a" stroke-width="0.35"/>
<rect x="487.21" y="497.62" width="2.40" height="27.08" fill="#E64B35" stroke="#2a2a2a" stroke-width="0.35"/>
<rect x="489.61" y="498.98" width="2.40" height="25.72" fill="#4DBBD5" stroke="#2a2a2a" stroke-width="0.35"/>
<rect x="492.01" y="493.03" width="2.40" height="31.67" fill="#00A087" stroke="#2a2a2a" stroke-width="0.35"/>
<rect x="494.41" y="499.23" width="2.40" height="25.47" fill="#3C5488" stroke="#2a2a2a" stroke-width="0.35"/>
<rect x="496.81" y="489.72" width="2.40" height="34.98" fill="#F39B7F" stroke="#2a2a2a" stroke-width="0.35"/>
<rect x="499.21" y="495.24" width="2.40" height="29.46" fill="#8491B4" stroke="#2a2a2a" stroke-width="0.35"/>
<rect x="501.61" y="484.29" width="2.40" height="40.41" fill="#91D1C2" stroke="#2a2a2a" stroke-width="0.35"/>
<rect x="504.01" y="500.25" width="2.40" height="24.45" fill="#DC0000" stroke="#2a2a2a" stroke-width="0.35"/>
<rect x="506.41" y="501.18" width="2.40" height="23.52" fill="#7E6148" stroke="#2a2a2a" stroke-width="0.35"/>
<rect x="513.94" y="508.31" width="2.40" height="16.39" fill="#E64B35" stroke="#2a2a2a" stroke-width="0.35"/>
<rect x="516.34" y="514.17" width="2.40" height="10.53" fill="#4DBBD5" stroke="#2a2a2a" stroke-width="0.35"/>
<rect x="518.74" y="513.15" width="2.40" height="11.55" fill="#00A087" stroke="#2a2a2a" stroke-width="0.35"/>
<rect x="521.14" y="517.57" width="2.40" height="7.13" fill="#3C5488" stroke="#2a2a2a" stroke-width="0.35"/>
<rect x="523.54" y="513.24" width="2.40" height="11.46" fill="#F39B7F" stroke="#2a2a2a" stroke-width="0.35"/>
<rect x="525.94" y="513.24" width="2.40" height="11.46" fill="#8491B4" stroke="#2a2a2a" stroke-width="0.35"/>
<rect x="528.34" y="514.51" width="2.40" height="10.19" fill="#91D1C2" stroke="#2a2a2a" stroke-width="0.35"/>
<rect x="530.74" y="512.22" width="2.40" height="12.48" fill="#DC0000" stroke="#2a2a2a" stroke-width="0.35"/>
<rect x="533.14" y="514.17" width="2.40" height="10.53" fill="#7E6148" stroke="#2a2a2a" stroke-width="0.35"/>
<line x1="25.8" y1="524.70" x2="27.7" y2="524.70" stroke="#222" stroke-width="1"/>
<text transform="translate(24.40,526.80) scale(1,1.1)" font-size="6.0" text-anchor="end" font-weight="normal" font-style="normal" fill="#1a1a1a" stroke="#1a1a1a" >0%</text>
<line x1="25.8" y1="482.25" x2="27.7" y2="482.25" stroke="#222" stroke-width="1"/>
<text transform="translate(24.40,484.35) scale(1,1.1)" font-size="6.0" text-anchor="end" font-weight="normal" font-style="normal" fill="#1a1a1a" stroke="#1a1a1a" >5%</text>
<line x1="25.8" y1="439.80" x2="27.7" y2="439.80" stroke="#222" stroke-width="1"/>
<text transform="translate(24.40,441.90) scale(1,1.1)" font-size="6.0" text-anchor="end" font-weight="normal" font-style="normal" fill="#1a1a1a" stroke="#1a1a1a" >10%</text>
<line x1="25.8" y1="397.35" x2="27.7" y2="397.35" stroke="#222" stroke-width="1"/>
<text transform="translate(24.40,399.45) scale(1,1.1)" font-size="6.0" text-anchor="end" font-weight="normal" font-style="normal" fill="#1a1a1a" stroke="#1a1a1a" >15%</text>
<line x1="25.8" y1="354.90" x2="27.7" y2="354.90" stroke="#222" stroke-width="1"/>
<text transform="translate(24.40,357.00) scale(1,1.1)" font-size="6.0" text-anchor="end" font-weight="normal" font-style="normal" fill="#1a1a1a" stroke="#1a1a1a" >20%</text>
<line x1="43.90" y1="532.3" x2="43.90" y2="534.4" stroke="#222" stroke-width="1"/>
<text transform="translate(43.90,540.60) scale(1,1.1)" font-size="6.2" text-anchor="middle" font-weight="normal" font-style="normal" fill="#1a1a1a" stroke="#1a1a1a" >C</text>
<line x1="70.63" y1="532.3" x2="70.63" y2="534.4" stroke="#222" stroke-width="1"/>
<text transform="translate(70.63,540.60) scale(1,1.1)" font-size="6.2" text-anchor="middle" font-weight="normal" font-style="normal" fill="#1a1a1a" stroke="#1a1a1a" >D</text>
<line x1="97.36" y1="532.3" x2="97.36" y2="534.4" stroke="#222" stroke-width="1"/>
<text transform="translate(97.36,540.60) scale(1,1.1)" font-size="6.2" text-anchor="middle" font-weight="normal" font-style="normal" fill="#1a1a1a" stroke="#1a1a1a" >E</text>
<line x1="124.09" y1="532.3" x2="124.09" y2="534.4" stroke="#222" stroke-width="1"/>
<text transform="translate(124.09,540.60) scale(1,1.1)" font-size="6.2" text-anchor="middle" font-weight="normal" font-style="normal" fill="#1a1a1a" stroke="#1a1a1a" >F</text>
<line x1="150.82" y1="532.3" x2="150.82" y2="534.4" stroke="#222" stroke-width="1"/>
<text transform="translate(150.82,540.60) scale(1,1.1)" font-size="6.2" text-anchor="middle" font-weight="normal" font-style="normal" fill="#1a1a1a" stroke="#1a1a1a" >G</text>
<line x1="177.55" y1="532.3" x2="177.55" y2="534.4" stroke="#222" stroke-width="1"/>
<text transform="translate(177.55,540.60) scale(1,1.1)" font-size="6.2" text-anchor="middle" font-weight="normal" font-style="normal" fill="#1a1a1a" stroke="#1a1a1a" >H</text>
<line x1="204.28" y1="532.3" x2="204.28" y2="534.4" stroke="#222" stroke-width="1"/>
<text transform="translate(204.28,540.60) scale(1,1.1)" font-size="6.2" text-anchor="middle" font-weight="normal" font-style="normal" fill="#1a1a1a" stroke="#1a1a1a" >I</text>
<line x1="231.01" y1="532.3" x2="231.01" y2="534.4" stroke="#222" stroke-width="1"/>
<text transform="translate(231.01,540.60) scale(1,1.1)" font-size="6.2" text-anchor="middle" font-weight="normal" font-style="normal" fill="#1a1a1a" stroke="#1a1a1a" >J</text>
<line x1="257.74" y1="532.3" x2="257.74" y2="534.4" stroke="#222" stroke-width="1"/>
<text transform="translate(257.74,540.60) scale(1,1.1)" font-size="6.2" text-anchor="middle" font-weight="normal" font-style="normal" fill="#1a1a1a" stroke="#1a1a1a" >K</text>
<line x1="284.47" y1="532.3" x2="284.47" y2="534.4" stroke="#222" stroke-width="1"/>
<text transform="translate(284.47,540.60) scale(1,1.1)" font-size="6.2" text-anchor="middle" font-weight="normal" font-style="normal" fill="#1a1a1a" stroke="#1a1a1a" >L</text>
<line x1="311.20" y1="532.3" x2="311.20" y2="534.4" stroke="#222" stroke-width="1"/>
<text transform="translate(311.20,540.60) scale(1,1.1)" font-size="6.2" text-anchor="middle" font-weight="normal" font-style="normal" fill="#1a1a1a" stroke="#1a1a1a" >M</text>
<line x1="337.93" y1="532.3" x2="337.93" y2="534.4" stroke="#222" stroke-width="1"/>
<text transform="translate(337.93,540.60) scale(1,1.1)" font-size="6.2" text-anchor="middle" font-weight="normal" font-style="normal" fill="#1a1a1a" stroke="#1a1a1a" >N</text>
<line x1="364.66" y1="532.3" x2="364.66" y2="534.4" stroke="#222" stroke-width="1"/>
<text transform="translate(364.66,540.60) scale(1,1.1)" font-size="6.2" text-anchor="middle" font-weight="normal" font-style="normal" fill="#1a1a1a" stroke="#1a1a1a" >O</text>
<line x1="391.39" y1="532.3" x2="391.39" y2="534.4" stroke="#222" stroke-width="1"/>
<text transform="translate(391.39,540.60) scale(1,1.1)" font-size="6.2" text-anchor="middle" font-weight="normal" font-style="normal" fill="#1a1a1a" stroke="#1a1a1a" >P</text>
<line x1="418.12" y1="532.3" x2="418.12" y2="534.4" stroke="#222" stroke-width="1"/>
<text transform="translate(418.12,540.60) scale(1,1.1)" font-size="6.2" text-anchor="middle" font-weight="normal" font-style="normal" fill="#1a1a1a" stroke="#1a1a1a" >Q</text>
<line x1="444.85" y1="532.3" x2="444.85" y2="534.4" stroke="#222" stroke-width="1"/>
<text transform="translate(444.85,540.60) scale(1,1.1)" font-size="6.2" text-anchor="middle" font-weight="normal" font-style="normal" fill="#1a1a1a" stroke="#1a1a1a" >S</text>
<line x1="471.58" y1="532.3" x2="471.58" y2="534.4" stroke="#222" stroke-width="1"/>
<text transform="translate(471.58,540.60) scale(1,1.1)" font-size="6.2" text-anchor="middle" font-weight="normal" font-style="normal" fill="#1a1a1a" stroke="#1a1a1a" >T</text>
<line x1="498.31" y1="532.3" x2="498.31" y2="534.4" stroke="#222" stroke-width="1"/>
<text transform="translate(498.31,540.60) scale(1,1.1)" font-size="6.2" text-anchor="middle" font-weight="normal" font-style="normal" fill="#1a1a1a" stroke="#1a1a1a" >U</text>
<line x1="525.04" y1="532.3" x2="525.04" y2="534.4" stroke="#222" stroke-width="1"/>
<text transform="translate(525.04,540.60) scale(1,1.1)" font-size="6.2" text-anchor="middle" font-weight="normal" font-style="normal" fill="#1a1a1a" stroke="#1a1a1a" >V</text>
<text transform="translate(286.3,547.2) scale(1,1.15)" font-size="6.0" text-anchor="middle" font-weight="bold" fill="#111">Functional classification</text>
<text transform="translate(12.0,441.0) rotate(-90) scale(1,1.12)" font-size="6.2" text-anchor="middle" fill="#111" stroke="#111">Percentage of matched genes</text>
<rect x="53.4" y="363.50" width="6.4" height="6.47" fill="#E64B35" stroke="#999" stroke-width="0.3"/>
<text transform="translate(62.5,368.40) scale(1,1.1)" font-size="6.2" fill="#262626" stroke="#262626" stroke-width="0.05"><tspan font-style="normal">C.</tspan> <tspan font-style="italic">gastroensis</tspan> PS10<tspan font-size="3.6" dy="-2.2">T</tspan></text>
<rect x="53.4" y="369.97" width="6.4" height="6.47" fill="#4DBBD5" stroke="#999" stroke-width="0.3"/>
<text transform="translate(62.5,374.87) scale(1,1.1)" font-size="6.2" fill="#262626" stroke="#262626" stroke-width="0.05"><tspan font-style="normal">C.</tspan> <tspan font-style="italic">mucosalis</tspan> ATCC 43264<tspan font-size="3.6" dy="-2.2">T</tspan></text>
<rect x="53.4" y="376.44" width="6.4" height="6.47" fill="#00A087" stroke="#999" stroke-width="0.3"/>
<text transform="translate(62.5,381.34) scale(1,1.1)" font-size="6.2" fill="#262626" stroke="#262626" stroke-width="0.05"><tspan font-style="normal">C.</tspan> <tspan font-style="italic">majalis</tspan> LMG 7974<tspan font-size="3.6" dy="-2.2">T</tspan></text>
<rect x="53.4" y="382.91" width="6.4" height="6.47" fill="#3C5488" stroke="#999" stroke-width="0.3"/>
<text transform="translate(62.5,387.81) scale(1,1.1)" font-size="6.2" fill="#262626" stroke="#262626" stroke-width="0.05"><tspan font-style="normal">C.</tspan> <tspan font-style="italic">mucosalis</tspan> ATCC 43264<tspan font-size="3.6" dy="-2.2">T</tspan></text>
<rect x="53.4" y="389.38" width="6.4" height="6.47" fill="#F39B7F" stroke="#999" stroke-width="0.3"/>
<text transform="translate(62.5,394.28) scale(1,1.1)" font-size="6.2" fill="#262626" stroke="#262626" stroke-width="0.05"><tspan font-style="normal">C.</tspan> <tspan font-style="italic">pinnipediorum subsp.</tspan> pinnipediorum RM 17260<tspan font-size="3.6" dy="-2.2">T</tspan></text>
<rect x="53.4" y="395.85" width="6.4" height="6.47" fill="#8491B4" stroke="#999" stroke-width="0.3"/>
<text transform="translate(62.5,400.75) scale(1,1.1)" font-size="6.2" fill="#262626" stroke="#262626" stroke-width="0.05"><tspan font-style="normal">C.</tspan> <tspan font-style="italic">pinnipediorum subsp.</tspan> caledonicus M302/10/6<tspan font-size="3.6" dy="-2.2">T</tspan></text>
<rect x="53.4" y="402.32" width="6.4" height="6.47" fill="#91D1C2" stroke="#999" stroke-width="0.3"/>
<text transform="translate(62.5,407.22) scale(1,1.1)" font-size="6.2" fill="#262626" stroke="#262626" stroke-width="0.05"><tspan font-style="normal">C.</tspan> <tspan font-style="italic">coli</tspan> RM 1875<tspan font-size="3.6" dy="-2.2">T</tspan></text>
<rect x="53.4" y="408.79" width="6.4" height="6.47" fill="#DC0000" stroke="#999" stroke-width="0.3"/>
<text transform="translate(62.5,413.69) scale(1,1.1)" font-size="6.2" fill="#262626" stroke="#262626" stroke-width="0.05"><tspan font-style="normal">C.</tspan> <tspan font-style="italic">jejuni subsp.</tspan> jejuni ATCC 33560<tspan font-size="3.6" dy="-2.2">T</tspan></text>
<rect x="53.4" y="415.26" width="6.4" height="6.47" fill="#7E6148" stroke="#999" stroke-width="0.3"/>
<text transform="translate(62.5,420.16) scale(1,1.1)" font-size="6.2" fill="#262626" stroke="#262626" stroke-width="0.05"><tspan font-style="normal">C.</tspan> <tspan font-style="italic">jejuni subsp.</tspan> doylei NCTC 11951<tspan font-size="3.6" dy="-2.2">T</tspan></text>
</svg>
</body></html>
